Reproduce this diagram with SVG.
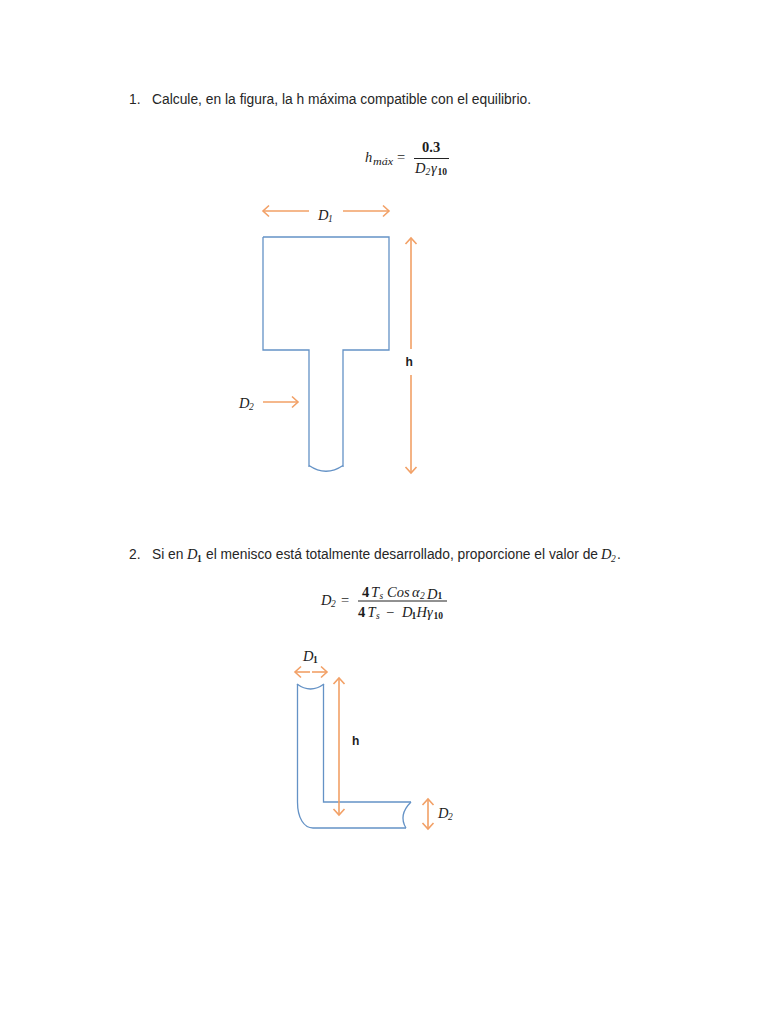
<svg xmlns="http://www.w3.org/2000/svg" width="768" height="1024" viewBox="0 0 768 1024">
<style>
.t{font-family:"Liberation Sans",Arial,sans-serif;font-size:13.8px;fill:#262626}
.m{font-family:"Liberation Serif","Times New Roman",serif;font-style:italic;font-size:14.5px;fill:#1c1c1c}
.n{font-style:normal}
.w{font-weight:bold;font-style:normal}
.s{font-size:9.500px}
.h{font-family:"Liberation Sans",Arial,sans-serif;font-weight:bold;font-size:12px;fill:#1c1c1c}
.p{fill:none;stroke:#6492c6;stroke-width:1.300}
.a{fill:none;stroke:#f2a066;stroke-width:1.600;marker-end:url(#ah)}
.d{fill:none;stroke:#222;stroke-width:1}
</style>
<defs>
<marker id="ah" markerUnits="userSpaceOnUse" markerWidth="14" markerHeight="14" refX="9" refY="7" orient="auto">
<path d="M3 1.500L9 7L3 12.500" fill="none" stroke="#f2a066" stroke-width="1.600"/>
</marker>
</defs>
<rect width="768" height="1024" fill="#fff"/>

<g id="question-1">
<text class="t" x="129" y="104">1.</text>
<text class="t" x="152" y="104" textLength="379" lengthAdjust="spacingAndGlyphs">Calcule, en la figura, la h máxima compatible con el equilibrio.</text>
</g>

<g id="formula-1">
<text class="m" x="365" y="162">h<tspan class="s" x="373" y="165" font-size="10" textLength="20" lengthAdjust="spacingAndGlyphs">máx</tspan><tspan class="n" x="397" y="162">=</tspan></text>
<text class="m w" x="422" y="152" font-size="15">0.3</text>
<line class="d" x1="414" y1="158.500" x2="449" y2="158.500"/>
<text class="m" x="415" y="173">D<tspan class="s" x="425.500" y="175">2</tspan><tspan x="431" y="173">γ</tspan><tspan class="s w" x="437.500" y="175">10</tspan></text>
</g>

<g id="vessel-1">
<path class="p" d="M263 237H389V350H343V467M263 237V350H309V467"/>
<path class="p" d="M309 465.500Q326 477 343 465.500"/>
</g>

<g id="label-d1-top"><text class="m" x="318" y="220">D<tspan class="s" x="328" y="222">1</tspan></text></g>
<g id="label-d2-left"><text class="m" x="239" y="408">D<tspan class="s" x="249" y="410">2</tspan></text></g>
<g id="label-h-1"><text class="h" x="405.500" y="366">h</text></g>

<g id="question-2">
<text class="t" x="129" y="559">2.</text>
<text class="t" x="152" y="559">Si en</text>
<text class="m" x="187" y="559">D<tspan class="s w" x="197" y="562">1</tspan></text>
<text class="t" x="206" y="559" textLength="392" lengthAdjust="spacingAndGlyphs">el menisco está totalmente desarrollado, proporcione el valor de</text>
<text class="m" x="601" y="559">D<tspan class="s" x="611" y="562">2</tspan></text>
<text class="t" x="617" y="559">.</text>
</g>

<g id="formula-2">
<text class="m" x="321" y="605">D<tspan class="s" x="331" y="607">2</tspan><tspan class="n" x="341" y="605">=</tspan></text>
<text class="m" x="362" y="597"><tspan class="w">4</tspan><tspan x="371">T</tspan><tspan class="s" x="379.500" y="599">s</tspan><tspan x="387" y="597">Cos</tspan><tspan x="412">α</tspan><tspan class="s" x="420" y="599">2</tspan><tspan x="427">D</tspan><tspan class="s w" x="437.500" y="599">1</tspan></text>
<line class="d" x1="358" y1="601" x2="447" y2="601"/>
<text class="m" x="358" y="617"><tspan class="w">4</tspan><tspan x="367.500">T</tspan><tspan class="s" x="376" y="619">s</tspan><tspan class="n" x="386" y="617">−</tspan><tspan x="402">D</tspan><tspan class="s w" x="411.500" y="619">1</tspan><tspan x="416.500" y="617">H</tspan><tspan x="427">γ</tspan><tspan class="s w" x="433.500" y="619">10</tspan></text>
</g>

<g id="vessel-2">
<path class="p" d="M297.500 684V802C297.500 818 304 828 313 828H406M323.500 684V802H411"/>
<path class="p" d="M297 684Q310.500 694 324 684"/>
<path class="p" d="M411 802Q398 815 406 828"/>
</g>

<g id="label-d1-bottom"><text class="m" x="303" y="661">D<tspan class="s w" x="313" y="663">1</tspan></text></g>
<g id="label-h-2"><text class="h" x="352" y="745">h</text></g>
<g id="label-d2-right"><text class="m" x="438" y="818">D<tspan class="s" x="448" y="820">2</tspan></text></g>

<g id="connectors">
<path class="a" d="M309 211H263"/>
<path class="a" d="M343 211H389"/>
<path class="a" d="M411 349V238"/>
<path class="a" d="M411 375V473"/>
<path class="a" d="M263 402H298"/>
<path class="a" d="M310 672H295"/>
<path class="a" d="M312 672H327"/>
<path class="a" d="M339 750V678"/>
<path class="a" d="M339 750V815"/>
<path class="a" d="M428 814V799"/>
<path class="a" d="M428 814V829"/>
</g>
</svg>
